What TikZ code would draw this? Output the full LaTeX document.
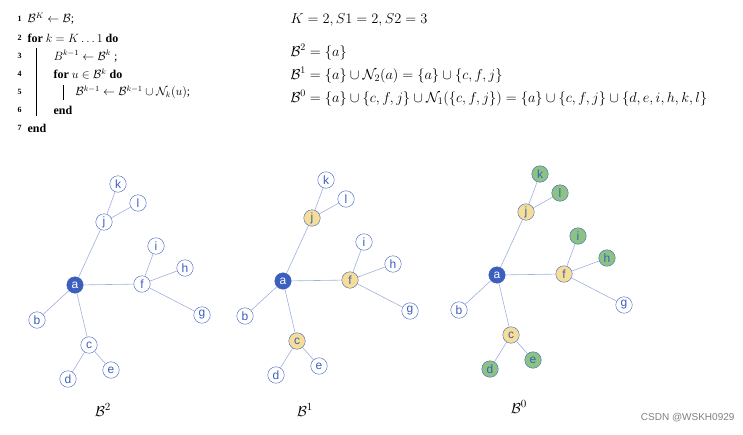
\documentclass[tikz,border=0pt]{standalone}
\usepackage{amsmath}
\usepackage{fontspec}
\setmainfont{Liberation Serif}
\newfontfamily\sansf{Liberation Sans}
\definecolor{nblue}{RGB}{60,95,190}
\definecolor{eblue}{RGB}{160,175,225}
\definecolor{nyel}{RGB}{246,222,150}
\definecolor{ngrn}{RGB}{140,195,130}
\begin{document}
\begin{tikzpicture}[x=1pt,y=-1pt,
  nd/.style={circle,draw=nblue,fill=white,minimum size=16.5pt,inner sep=0pt,font=\sansf\fontsize{12}{12}\selectfont,text=nblue},
  na/.style={nd,fill=nblue,text=white},
  ny/.style={nd,fill=nyel},
  ng/.style={nd,fill=ngrn},
  ed/.style={draw=eblue,line width=0.6pt},
  lnum/.style={anchor=west,font=\fontsize{8}{8}\selectfont\bfseries},
  alg/.style={anchor=west,font=\fontsize{12}{12}\selectfont},
  eq/.style={anchor=west,font=\fontsize{14.6}{14.6}\selectfont}]
\useasboundingbox (0,0) rectangle (743,434);
% algorithm
\foreach \n/\y in {1/19,2/38,3/56,4/74,5/92,6/110,7/128} \node[lnum] (ln\n) at (14,\y) {\n};
\node[alg] (t1) at (24,19) {$\mathcal{B}^K\leftarrow\mathcal{B}$;};
\node[alg] (t2) at (24,38) {\textbf{for} $k=K\ldots1$ \textbf{do}};
\node[alg] (t3) at (50,56) {$B^{k-1}\leftarrow\mathcal{B}^k$ ;};
\node[alg] (t4) at (50,74) {\textbf{for} $u\in\mathcal{B}^k$ \textbf{do}};
\node[alg] (t5) at (72,92) {$\mathcal{B}^{k-1}\leftarrow\mathcal{B}^{k-1}\cup\mathcal{N}_k(u)$;};
\node[alg] (t6) at (50,110) {\textbf{end}};
\node[alg] (t7) at (24,128) {\textbf{end}};
\draw[line width=0.4pt] (36,48) -- (36,116);
\draw[line width=0.4pt] (63,85) -- (63,100);
% equations
\node[eq] (e0) at (287,20) {$K=2, S1=2, S2=3$};
\node[eq] (e1) at (287,52) {$\mathcal{B}^2=\{a\}$};
\node[eq] (e2) at (287,75) {$\mathcal{B}^1=\{a\}\cup\mathcal{N}_2(a)=\{a\}\cup\{c,f,j\}$};
\node[eq] (e3) at (287,98) {$\mathcal{B}^0=\{a\}\cup\{c,f,j\}\cup\mathcal{N}_1(\{c,f,j\})=\{a\}\cup\{c,f,j\}\cup\{d,e,i,h,k,l\}$};
% trees
\newcommand{\mytree}[6]{%
\begin{scope}[shift={(#1,#2)}]
\node[#3] (#6a) at (75,285) {a};
\node[#4] (#6j) at (104,222) {j};
\node[#4] (#6f) at (142,284) {f};
\node[#4] (#6c) at (89,345) {c};
\node[#5] (#6k) at (118,184) {k};
\node[#5] (#6l) at (138,203) {l};
\node[#5] (#6i) at (156,246) {i};
\node[#5] (#6h) at (185,268) {h};
\node[#5] (#6e) at (111,370) {e};
\node[#5] (#6d) at (68,379) {d};
\node[nd] (#6g) at (202,315) {g};
\node[nd] (#6b) at (37,320) {b};
\end{scope}
\foreach \u/\v in {a/j,a/f,a/c,a/b,j/k,j/l,f/i,f/h,f/g,c/d,c/e}
  \draw[ed] (#6\u) -- (#6\v);
}
\mytree{0}{0}{na}{nd}{nd}{A}
\mytree{208}{-4}{na}{ny}{nd}{B}
\mytree{422}{-10}{na}{ny}{ng}{C}
\node[font=\fontsize{15}{15}\selectfont] (l2) at (103,410) {$\mathcal{B}^2$};
\node[font=\fontsize{15}{15}\selectfont] (l1) at (305,410) {$\mathcal{B}^1$};
\node[font=\fontsize{15}{15}\selectfont] (l0) at (519,407) {$\mathcal{B}^0$};
\node[anchor=east,font=\sansf\fontsize{10}{10}\selectfont,text=gray] (wm) at (738,418) {CSDN @WSKH0929};
\end{tikzpicture}
\end{document}
